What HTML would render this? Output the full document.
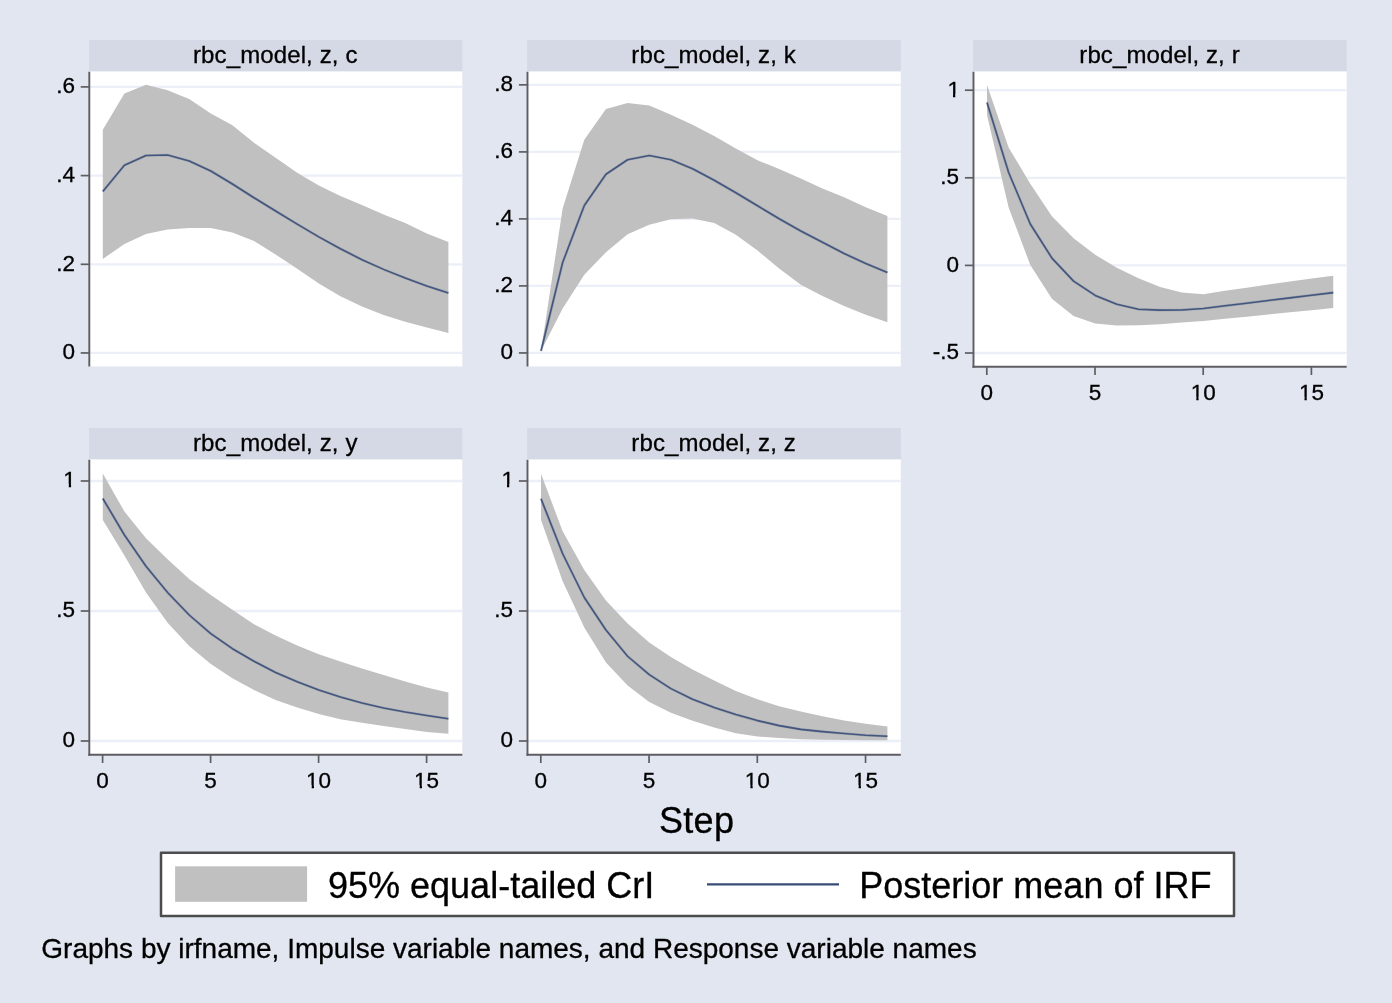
<!DOCTYPE html>
<html lang="en">
<head>
<meta charset="utf-8">
<title>IRF graph</title>
<style>
html,body{margin:0;padding:0;background:#E1E6F0;}
body{width:1392px;height:1003px;overflow:hidden;}
svg{display:block;}
</style>
</head>
<body>
<svg width="1392" height="1003" viewBox="0 0 1392 1003" font-family="'Liberation Sans', Arial, sans-serif" fill="#000000">
<g>
<rect x="-20" y="-20" width="1432" height="1043" fill="#E1E6F0"/>
<g>
<rect x="89" y="40" width="373.3" height="31.5" fill="#D4D9E5"/>
<rect x="89" y="71.5" width="373.3" height="294.9" fill="#FFFFFF"/>
<line x1="89" x2="462.3" y1="86.9" y2="86.9" stroke="#ECEFF8" stroke-width="2.3"/>
<line x1="89" x2="462.3" y1="175.6" y2="175.6" stroke="#ECEFF8" stroke-width="2.3"/>
<line x1="89" x2="462.3" y1="264.3" y2="264.3" stroke="#ECEFF8" stroke-width="2.3"/>
<line x1="89" x2="462.3" y1="352.95" y2="352.95" stroke="#ECEFF8" stroke-width="2.3"/>
<polygon points="102.8,129.75 124.4,93.5 146,84.75 167.6,90.25 189.2,99 210.8,113.5 232.4,125.25 254,142.75 275.6,157.75 297.2,172.75 318.8,185.38 340.4,196.01 362,204.89 383.6,214.51 405.2,222.89 426.8,233.52 448.4,241.9 448.4,332.95 426.8,327.61 405.2,321.77 383.6,314.94 362,306.6 340.4,296.26 318.8,283.43 297.2,268.84 275.6,254.5 254,241 232.4,232.5 210.8,228 189.2,228 167.6,229.5 146,234 124.4,244 102.8,259" fill="#C0C0C0"/>
<polyline points="102.8,191.5 124.4,165.25 146,155.5 167.6,155 189.2,161 210.8,171 232.4,184 254,197.75 275.6,211 297.2,224.18 318.8,236.85 340.4,248.78 362,259.7 383.6,269.38 405.2,278.05 426.8,285.98 448.4,292.9" fill="none" stroke="#384C78" stroke-opacity="0.2" stroke-width="2.7" stroke-linejoin="round"/>
<polyline points="102.8,191.5 124.4,165.25 146,155.5 167.6,155 189.2,161 210.8,171 232.4,184 254,197.75 275.6,211 297.2,224.18 318.8,236.85 340.4,248.78 362,259.7 383.6,269.38 405.2,278.05 426.8,285.98 448.4,292.9" fill="none" stroke="#384C78" stroke-opacity="0.9" stroke-width="1.6" stroke-linejoin="round"/>
<line x1="89.3" x2="89.3" y1="71.8" y2="366.4" stroke="#5E5E62" stroke-width="1.9"/>
<line x1="80.7" x2="89" y1="86.9" y2="86.9" stroke="#5E5E62" stroke-width="1.7"/>
<line x1="80.7" x2="89" y1="175.6" y2="175.6" stroke="#5E5E62" stroke-width="1.7"/>
<line x1="80.7" x2="89" y1="264.3" y2="264.3" stroke="#5E5E62" stroke-width="1.7"/>
<line x1="80.7" x2="89" y1="352.95" y2="352.95" stroke="#5E5E62" stroke-width="1.7"/>
</g>
<g>
<rect x="527.2" y="40" width="373.6" height="31.5" fill="#D4D9E5"/>
<rect x="527.2" y="71.5" width="373.6" height="294.9" fill="#FFFFFF"/>
<line x1="527.2" x2="900.8" y1="84.85" y2="84.85" stroke="#ECEFF8" stroke-width="2.3"/>
<line x1="527.2" x2="900.8" y1="151.9" y2="151.9" stroke="#ECEFF8" stroke-width="2.3"/>
<line x1="527.2" x2="900.8" y1="218.9" y2="218.9" stroke="#ECEFF8" stroke-width="2.3"/>
<line x1="527.2" x2="900.8" y1="285.9" y2="285.9" stroke="#ECEFF8" stroke-width="2.3"/>
<line x1="527.2" x2="900.8" y1="352.95" y2="352.95" stroke="#ECEFF8" stroke-width="2.3"/>
<polygon points="541,351 562.65,208.5 584.3,139.75 605.95,109 627.6,103 649.25,105.5 670.9,114.75 692.55,124.75 714.2,136 735.85,148.5 757.5,160.25 779.15,169 800.8,178.5 822.45,188.5 844.1,197.25 865.75,207.25 887.4,216 887.4,322.25 865.75,314.75 844.1,306 822.45,296 800.8,284.75 779.15,268.5 757.5,250.5 735.85,234.75 714.2,223 692.55,218.5 670.9,219.25 649.25,224.75 627.6,234.25 605.95,252.25 584.3,274.75 562.65,308.5 541,351" fill="#C0C0C0"/>
<polyline points="541,351 562.65,262.5 584.3,205.5 605.95,174.25 627.6,159.75 649.25,155.5 670.9,159.75 692.55,168.75 714.2,180.25 735.85,192.75 757.5,205.75 779.15,218.75 800.8,231 822.45,242.25 844.1,253.5 865.75,263.5 887.4,272.5" fill="none" stroke="#384C78" stroke-opacity="0.2" stroke-width="2.7" stroke-linejoin="round"/>
<polyline points="541,351 562.65,262.5 584.3,205.5 605.95,174.25 627.6,159.75 649.25,155.5 670.9,159.75 692.55,168.75 714.2,180.25 735.85,192.75 757.5,205.75 779.15,218.75 800.8,231 822.45,242.25 844.1,253.5 865.75,263.5 887.4,272.5" fill="none" stroke="#384C78" stroke-opacity="0.9" stroke-width="1.6" stroke-linejoin="round"/>
<line x1="527.5" x2="527.5" y1="71.8" y2="366.4" stroke="#5E5E62" stroke-width="1.9"/>
<line x1="518.9" x2="527.2" y1="84.85" y2="84.85" stroke="#5E5E62" stroke-width="1.7"/>
<line x1="518.9" x2="527.2" y1="151.9" y2="151.9" stroke="#5E5E62" stroke-width="1.7"/>
<line x1="518.9" x2="527.2" y1="218.9" y2="218.9" stroke="#5E5E62" stroke-width="1.7"/>
<line x1="518.9" x2="527.2" y1="285.9" y2="285.9" stroke="#5E5E62" stroke-width="1.7"/>
<line x1="518.9" x2="527.2" y1="352.95" y2="352.95" stroke="#5E5E62" stroke-width="1.7"/>
</g>
<g>
<rect x="973.2" y="40" width="373.5" height="31.5" fill="#D4D9E5"/>
<rect x="973.2" y="71.5" width="373.5" height="294.9" fill="#FFFFFF"/>
<line x1="973.2" x2="1346.7" y1="90.2" y2="90.2" stroke="#ECEFF8" stroke-width="2.3"/>
<line x1="973.2" x2="1346.7" y1="177.8" y2="177.8" stroke="#ECEFF8" stroke-width="2.3"/>
<line x1="973.2" x2="1346.7" y1="265.4" y2="265.4" stroke="#ECEFF8" stroke-width="2.3"/>
<line x1="973.2" x2="1346.7" y1="353" y2="353" stroke="#ECEFF8" stroke-width="2.3"/>
<polygon points="987,85 1008.64,147.5 1030.28,183.75 1051.92,216.25 1073.56,238.25 1095.2,254.65 1116.84,267.65 1138.48,278.15 1160.12,287 1181.76,292.6 1203.4,294.25 1225.04,290.8 1246.68,287.7 1268.32,284.45 1289.96,281.45 1311.6,278.45 1333.24,275.7 1333.24,307.95 1311.6,310.25 1289.96,312.3 1268.32,314.45 1246.68,316.75 1225.04,318.8 1203.4,321 1181.76,322.5 1160.12,324.15 1138.48,325.3 1116.84,325.45 1095.2,323.45 1073.56,316.1 1051.92,298.75 1030.28,265 1008.64,207.5 987,115" fill="#C0C0C0"/>
<polyline points="987,102.5 1008.64,172.5 1030.28,223.95 1051.92,258.1 1073.56,281.1 1095.2,295.45 1116.84,304.2 1138.48,309.3 1160.12,310.15 1181.76,309.95 1203.4,308.5 1225.04,305.8 1246.68,303.2 1268.32,300.5 1289.96,297.9 1311.6,295.2 1333.24,292.6" fill="none" stroke="#384C78" stroke-opacity="0.2" stroke-width="2.7" stroke-linejoin="round"/>
<polyline points="987,102.5 1008.64,172.5 1030.28,223.95 1051.92,258.1 1073.56,281.1 1095.2,295.45 1116.84,304.2 1138.48,309.3 1160.12,310.15 1181.76,309.95 1203.4,308.5 1225.04,305.8 1246.68,303.2 1268.32,300.5 1289.96,297.9 1311.6,295.2 1333.24,292.6" fill="none" stroke="#384C78" stroke-opacity="0.9" stroke-width="1.6" stroke-linejoin="round"/>
<line x1="973.5" x2="973.5" y1="71.8" y2="367.8" stroke="#5E5E62" stroke-width="1.9"/>
<line x1="964.9" x2="973.2" y1="90.2" y2="90.2" stroke="#5E5E62" stroke-width="1.7"/>
<line x1="964.9" x2="973.2" y1="177.8" y2="177.8" stroke="#5E5E62" stroke-width="1.7"/>
<line x1="964.9" x2="973.2" y1="265.4" y2="265.4" stroke="#5E5E62" stroke-width="1.7"/>
<line x1="964.9" x2="973.2" y1="353" y2="353" stroke="#5E5E62" stroke-width="1.7"/>
<line x1="972.5" x2="1346.7" y1="366.8" y2="366.8" stroke="#5E5E62" stroke-width="1.9"/>
<line x1="986.8" x2="986.8" y1="366.8" y2="375" stroke="#5E5E62" stroke-width="1.7"/>
<line x1="1095" x2="1095" y1="366.8" y2="375" stroke="#5E5E62" stroke-width="1.7"/>
<line x1="1203.2" x2="1203.2" y1="366.8" y2="375" stroke="#5E5E62" stroke-width="1.7"/>
<line x1="1311.4" x2="1311.4" y1="366.8" y2="375" stroke="#5E5E62" stroke-width="1.7"/>
</g>
<g>
<rect x="89" y="428" width="373.3" height="31.5" fill="#D4D9E5"/>
<rect x="89" y="459.5" width="373.3" height="294.9" fill="#FFFFFF"/>
<line x1="89" x2="462.3" y1="481" y2="481" stroke="#ECEFF8" stroke-width="2.3"/>
<line x1="89" x2="462.3" y1="611" y2="611" stroke="#ECEFF8" stroke-width="2.3"/>
<line x1="89" x2="462.3" y1="741" y2="741" stroke="#ECEFF8" stroke-width="2.3"/>
<polygon points="102.8,473.5 124.4,511.5 146,538.3 167.6,559.2 189.2,579 210.8,595 232.4,609.8 254,624.3 275.6,635.5 297.2,645.6 318.8,654.2 340.4,661.5 362,668.5 383.6,675 405.2,681.5 426.8,687.5 448.4,692.5 448.4,733.75 426.8,732 405.2,729 383.6,726 362,722.8 340.4,719.2 318.8,713.9 297.2,707.6 275.6,699.9 254,690 232.4,678.3 210.8,664.1 189.2,646 167.6,622.8 146,592.5 124.4,555.5 102.8,519.9" fill="#C0C0C0"/>
<polyline points="102.8,498.5 124.4,535 146,566.3 167.6,592.5 189.2,615 210.8,633.7 232.4,648.7 254,661.3 275.6,672.5 297.2,681.8 318.8,690 340.4,697 362,703 383.6,708 405.2,712 426.8,715.5 448.4,718.75" fill="none" stroke="#384C78" stroke-opacity="0.2" stroke-width="2.7" stroke-linejoin="round"/>
<polyline points="102.8,498.5 124.4,535 146,566.3 167.6,592.5 189.2,615 210.8,633.7 232.4,648.7 254,661.3 275.6,672.5 297.2,681.8 318.8,690 340.4,697 362,703 383.6,708 405.2,712 426.8,715.5 448.4,718.75" fill="none" stroke="#384C78" stroke-opacity="0.9" stroke-width="1.6" stroke-linejoin="round"/>
<line x1="89.3" x2="89.3" y1="459.8" y2="755.8" stroke="#5E5E62" stroke-width="1.9"/>
<line x1="80.7" x2="89" y1="481" y2="481" stroke="#5E5E62" stroke-width="1.7"/>
<line x1="80.7" x2="89" y1="611" y2="611" stroke="#5E5E62" stroke-width="1.7"/>
<line x1="80.7" x2="89" y1="741" y2="741" stroke="#5E5E62" stroke-width="1.7"/>
<line x1="88.3" x2="462.3" y1="754.8" y2="754.8" stroke="#5E5E62" stroke-width="1.9"/>
<line x1="102.6" x2="102.6" y1="754.8" y2="763" stroke="#5E5E62" stroke-width="1.7"/>
<line x1="210.6" x2="210.6" y1="754.8" y2="763" stroke="#5E5E62" stroke-width="1.7"/>
<line x1="318.6" x2="318.6" y1="754.8" y2="763" stroke="#5E5E62" stroke-width="1.7"/>
<line x1="426.6" x2="426.6" y1="754.8" y2="763" stroke="#5E5E62" stroke-width="1.7"/>
</g>
<g>
<rect x="527.2" y="428" width="373.6" height="31.5" fill="#D4D9E5"/>
<rect x="527.2" y="459.5" width="373.6" height="294.9" fill="#FFFFFF"/>
<line x1="527.2" x2="900.8" y1="481" y2="481" stroke="#ECEFF8" stroke-width="2.3"/>
<line x1="527.2" x2="900.8" y1="611" y2="611" stroke="#ECEFF8" stroke-width="2.3"/>
<line x1="527.2" x2="900.8" y1="741" y2="741" stroke="#ECEFF8" stroke-width="2.3"/>
<polygon points="541,473.75 562.65,531.25 584.3,570 605.95,600.5 627.6,623.5 649.25,642.5 670.9,657 692.55,669.5 714.2,680.5 735.85,690.9 757.5,699.3 779.15,706.2 800.8,711.5 822.45,716.2 844.1,720.4 865.75,723.8 887.4,726.5 887.4,740.3 865.75,740.2 844.1,740 822.45,739.7 800.8,739.2 779.15,738.1 757.5,736.4 735.85,733.2 714.2,727.5 692.55,720.8 670.9,712.8 649.25,702 627.6,685.5 605.95,662.5 584.3,627.5 562.65,581.25 541,520" fill="#C0C0C0"/>
<polyline points="541,498.75 562.65,553.75 584.3,597.5 605.95,630 627.6,656.25 649.25,674.6 670.9,688.6 692.55,699.3 714.2,707.6 735.85,714.6 757.5,720.6 779.15,725.6 800.8,729.4 822.45,731.6 844.1,733.5 865.75,735.2 887.4,736.25" fill="none" stroke="#384C78" stroke-opacity="0.2" stroke-width="2.7" stroke-linejoin="round"/>
<polyline points="541,498.75 562.65,553.75 584.3,597.5 605.95,630 627.6,656.25 649.25,674.6 670.9,688.6 692.55,699.3 714.2,707.6 735.85,714.6 757.5,720.6 779.15,725.6 800.8,729.4 822.45,731.6 844.1,733.5 865.75,735.2 887.4,736.25" fill="none" stroke="#384C78" stroke-opacity="0.9" stroke-width="1.6" stroke-linejoin="round"/>
<line x1="527.5" x2="527.5" y1="459.8" y2="755.8" stroke="#5E5E62" stroke-width="1.9"/>
<line x1="518.9" x2="527.2" y1="481" y2="481" stroke="#5E5E62" stroke-width="1.7"/>
<line x1="518.9" x2="527.2" y1="611" y2="611" stroke="#5E5E62" stroke-width="1.7"/>
<line x1="518.9" x2="527.2" y1="741" y2="741" stroke="#5E5E62" stroke-width="1.7"/>
<line x1="526.5" x2="900.8" y1="754.8" y2="754.8" stroke="#5E5E62" stroke-width="1.9"/>
<line x1="540.8" x2="540.8" y1="754.8" y2="763" stroke="#5E5E62" stroke-width="1.7"/>
<line x1="649.05" x2="649.05" y1="754.8" y2="763" stroke="#5E5E62" stroke-width="1.7"/>
<line x1="757.3" x2="757.3" y1="754.8" y2="763" stroke="#5E5E62" stroke-width="1.7"/>
<line x1="865.55" x2="865.55" y1="754.8" y2="763" stroke="#5E5E62" stroke-width="1.7"/>
</g>
<rect x="161" y="852.8" width="1073" height="63.3" fill="#FFFFFF" stroke="#4C4C4E" stroke-width="2.5" stroke-linejoin="round"/>
<rect x="175.1" y="866.3" width="132" height="35.5" fill="#C0C0C0"/>
<line x1="707" x2="839" y1="884.4" y2="884.4" stroke="#384C78" stroke-width="2.4"/>
</g>
<g stroke="#000" stroke-width="0.3">
<text x="275.25" y="63.4" font-size="24" letter-spacing="0.12" text-anchor="middle">rbc_model, z, c</text>
<text x="74.9" y="93.3" font-size="22.5" text-anchor="end">.6</text>
<text x="74.9" y="182" font-size="22.5" text-anchor="end">.4</text>
<text x="74.9" y="270.7" font-size="22.5" text-anchor="end">.2</text>
<text x="74.9" y="359.35" font-size="22.5" text-anchor="end">0</text>
<text x="713.6" y="63.4" font-size="24" letter-spacing="0.12" text-anchor="middle">rbc_model, z, k</text>
<text x="513.1" y="91.25" font-size="22.5" text-anchor="end">.8</text>
<text x="513.1" y="158.3" font-size="22.5" text-anchor="end">.6</text>
<text x="513.1" y="225.3" font-size="22.5" text-anchor="end">.4</text>
<text x="513.1" y="292.3" font-size="22.5" text-anchor="end">.2</text>
<text x="513.1" y="359.35" font-size="22.5" text-anchor="end">0</text>
<text x="1159.55" y="63.4" font-size="24" letter-spacing="0.12" text-anchor="middle">rbc_model, z, r</text>
<text x="959.9" y="96.6" font-size="22.5" text-anchor="end">1</text>
<rect x="947.99" y="94.2" width="5" height="3.8" fill="#E1E6F0" stroke="none"/><rect x="955.29" y="94.2" width="4.9" height="3.8" fill="#E1E6F0" stroke="none"/>
<text x="959.1" y="184.2" font-size="22.5" text-anchor="end">.5</text>
<text x="959.1" y="271.8" font-size="22.5" text-anchor="end">0</text>
<text x="959.1" y="359.4" font-size="22.5" text-anchor="end">-.5</text>
<text x="986.8" y="399.6" font-size="22.5" text-anchor="middle">0</text>
<text x="1095" y="399.6" font-size="22.5" text-anchor="middle">5</text>
<text x="1203.2" y="399.6" font-size="22.5" text-anchor="middle">10</text>
<rect x="1191.29" y="397.2" width="5" height="3.8" fill="#E1E6F0" stroke="none"/><rect x="1198.59" y="397.2" width="4.9" height="3.8" fill="#E1E6F0" stroke="none"/>
<text x="1311.4" y="399.6" font-size="22.5" text-anchor="middle">15</text>
<rect x="1299.49" y="397.2" width="5" height="3.8" fill="#E1E6F0" stroke="none"/><rect x="1306.79" y="397.2" width="4.9" height="3.8" fill="#E1E6F0" stroke="none"/>
<text x="275.25" y="451.4" font-size="24" letter-spacing="0.12" text-anchor="middle">rbc_model, z, y</text>
<text x="75.7" y="487.4" font-size="22.5" text-anchor="end">1</text>
<rect x="63.79" y="484.2" width="5" height="3.8" fill="#E1E6F0" stroke="none"/><rect x="71.09" y="484.2" width="4.9" height="3.8" fill="#E1E6F0" stroke="none"/>
<text x="74.9" y="617.4" font-size="22.5" text-anchor="end">.5</text>
<text x="74.9" y="747.4" font-size="22.5" text-anchor="end">0</text>
<text x="102.6" y="787.6" font-size="22.5" text-anchor="middle">0</text>
<text x="210.6" y="787.6" font-size="22.5" text-anchor="middle">5</text>
<text x="318.6" y="787.6" font-size="22.5" text-anchor="middle">10</text>
<rect x="306.69" y="785.2" width="5" height="3.8" fill="#E1E6F0" stroke="none"/><rect x="313.99" y="785.2" width="4.9" height="3.8" fill="#E1E6F0" stroke="none"/>
<text x="426.6" y="787.6" font-size="22.5" text-anchor="middle">15</text>
<rect x="414.69" y="785.2" width="5" height="3.8" fill="#E1E6F0" stroke="none"/><rect x="421.99" y="785.2" width="4.9" height="3.8" fill="#E1E6F0" stroke="none"/>
<text x="713.6" y="451.4" font-size="24" letter-spacing="0.12" text-anchor="middle">rbc_model, z, z</text>
<text x="513.9" y="487.4" font-size="22.5" text-anchor="end">1</text>
<rect x="501.99" y="484.2" width="5" height="3.8" fill="#E1E6F0" stroke="none"/><rect x="509.29" y="484.2" width="4.9" height="3.8" fill="#E1E6F0" stroke="none"/>
<text x="513.1" y="617.4" font-size="22.5" text-anchor="end">.5</text>
<text x="513.1" y="747.4" font-size="22.5" text-anchor="end">0</text>
<text x="540.8" y="787.6" font-size="22.5" text-anchor="middle">0</text>
<text x="649.05" y="787.6" font-size="22.5" text-anchor="middle">5</text>
<text x="757.3" y="787.6" font-size="22.5" text-anchor="middle">10</text>
<rect x="745.39" y="785.2" width="5" height="3.8" fill="#E1E6F0" stroke="none"/><rect x="752.69" y="785.2" width="4.9" height="3.8" fill="#E1E6F0" stroke="none"/>
<text x="865.55" y="787.6" font-size="22.5" text-anchor="middle">15</text>
<rect x="853.64" y="785.2" width="5" height="3.8" fill="#E1E6F0" stroke="none"/><rect x="860.94" y="785.2" width="4.9" height="3.8" fill="#E1E6F0" stroke="none"/>
<text x="659" y="833.4" font-size="36" letter-spacing="0.3">Step</text>
<text x="328" y="897.6" font-size="36">95% equal-tailed CrI</text>
<text x="859.3" y="897.6" font-size="36">Posterior mean of IRF</text>
<text x="41.3" y="957.6" font-size="28">Graphs by irfname, Impulse variable names, and Response variable names</text>
</g>
</svg>
</body>
</html>
